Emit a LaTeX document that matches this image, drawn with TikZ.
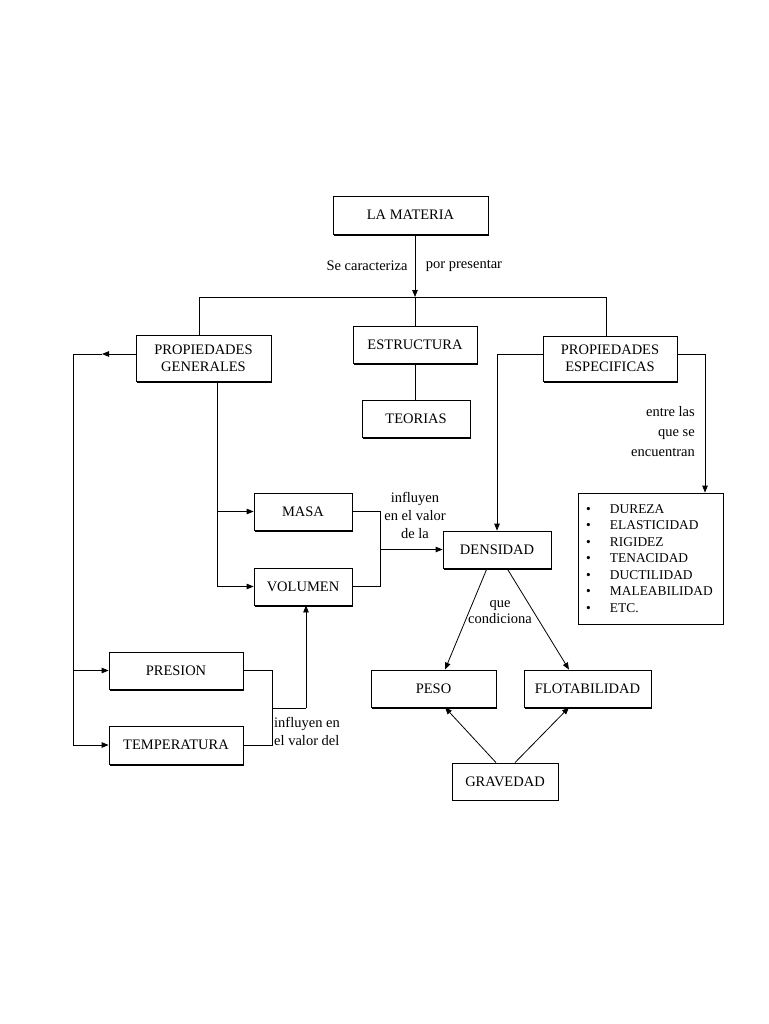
\documentclass[tikz,border=0pt]{standalone}
\usepackage{fontspec}
\setmainfont{Liberation Serif}
\usepackage{xcolor}
\usepackage{tikz}
\usetikzlibrary{arrows.meta, positioning, shadows}

\tikzset{
  box/.style={rectangle, draw, line width=0.8pt, fill=white, align=center, inner sep=2pt,
    drop shadow={shadow xshift=1pt, shadow yshift=-1.8pt, fill=black, opacity=1}},
  flatbox/.style={rectangle, draw, line width=0.8pt, fill=white, align=center, inner sep=2pt},
  link/.style={line width=0.8pt},
  arr/.style={line width=0.8pt, -{Triangle[length=7pt,width=5.5pt]}},
  lbl/.style={inner sep=0pt, font=\fontsize{14.5}{18}\selectfont}
}

\begin{document}
\begin{tikzpicture}[x=1pt, y=-1pt, font=\fontsize{14.5}{17}\selectfont]
    \useasboundingbox (0,0) rectangle (768,1024);

    % boxes
    \node[box, minimum width=155, minimum height=38] (materia) at (410.5,215) {LA MATERIA};
    \node[box, minimum width=135, minimum height=46] (pgen) at (203.5,358) {PROPIEDADES\\GENERALES};
    \node[box, minimum width=124, minimum height=37] (estr) at (415,344.5) {ESTRUCTURA};
    \node[box, minimum width=108, minimum height=37] (teor) at (416,418.5) {TEORIAS};
    \node[box, minimum width=134, minimum height=45] (pesp) at (610,358.5) {PROPIEDADES\\ESPECIFICAS};
    \node[box, minimum width=98, minimum height=37] (masa) at (303,511.5) {MASA};
    \node[box, minimum width=98, minimum height=37] (vol) at (303,586.5) {VOLUMEN};
    \node[box, minimum width=108, minimum height=37] (dens) at (497,549.5) {DENSIDAD};
    \node[box, minimum width=134, minimum height=37] (pres) at (176,670.5) {PRESION};
    \node[box, minimum width=134, minimum height=38] (temp) at (176,745) {TEMPERATURA};
    \node[box, minimum width=125, minimum height=37] (peso) at (433.5,688.5) {PESO};
    \node[box, minimum width=127, minimum height=37] (flot) at (587.5,688.5) {FLOTABILIDAD};
    \node[flatbox, minimum width=106, minimum height=37] (grav) at (505,781.5) {GRAVEDAD};
    \node[flatbox, minimum width=145, minimum height=131, text width=133, align=left,
      inner sep=6pt, font=\fontsize{13.4}{16.5}\selectfont] (lista) at (650.5,558.5) {%
      \makebox[26pt][l]{\hspace{2pt}\textbullet}DUREZA\\
      \makebox[26pt][l]{\hspace{2pt}\textbullet}ELASTICIDAD\\
      \makebox[26pt][l]{\hspace{2pt}\textbullet}RIGIDEZ\\
      \makebox[26pt][l]{\hspace{2pt}\textbullet}TENACIDAD\\
      \makebox[26pt][l]{\hspace{2pt}\textbullet}DUCTILIDAD\\
      \makebox[26pt][l]{\hspace{2pt}\textbullet}MALEABILIDAD\\
      \makebox[26pt][l]{\hspace{2pt}\textbullet}ETC.};

    % corner points
    \coordinate (top) at (415,297);
    \coordinate (topl) at (199,297);
    \coordinate (topr) at (606,297);
    \coordinate (lmid) at (102,354);
    \coordinate (lcol) at (73,354);
    \coordinate (lpres) at (73,670.5);
    \coordinate (ltemp) at (73,745);
    \coordinate (gcol) at (217,511.5);
    \coordinate (gvol) at (217,586.5);
    \coordinate (mvr) at (380,511.5);
    \coordinate (vvr) at (380,586.5);
    \coordinate (mvmid) at (380,549.5);
    \coordinate (ptr) at (272,670.5);
    \coordinate (ttr) at (272,745);
    \coordinate (ptmid) at (272,708);
    \coordinate (ptup) at (306,708);
    \coordinate (dl) at (497,354);
    \coordinate (er) at (705,354);

    % connectors
    \draw[arr] (materia.south -| top) -- (top);
    \draw[link] (topl) -- (topr);
    \draw[link] (topl) -- (topl |- pgen.north);
    \draw[link] (top) -- (estr.north -| top);
    \draw[link] (topr) -- (topr |- pesp.north);
    \draw[link] (estr.south -| top) -- (teor.north -| top);

    \draw[arr] (pgen.west |- lmid) -- (lmid);
    \draw[link] (lmid) -- (lcol) -- (ltemp);
    \draw[arr] (lpres) -- (pres.west);
    \draw[arr] (ltemp) -- (temp.west);

    \draw[link] (pgen.south -| gcol) -- (gvol);
    \draw[arr] (gcol) -- (masa.west);
    \draw[arr] (gvol) -- (vol.west);

    \draw[link] (masa.east) -- (mvr) -- (vvr) -- (vol.east);
    \draw[arr] (mvmid) -- (dens.west);

    \draw[link] (pres.east) -- (ptr) -- (ttr) -- (temp.east);
    \draw[link] (ptmid) -- (ptup);
    \draw[arr] (ptup) -- (vol.south -| ptup);

    \draw[link] (pesp.west |- dl) -- (dl);
    \draw[arr] (dl) -- (dens.north);
    \draw[link] (pesp.east |- er) -- (er);
    \draw[arr] (er) -- (lista.north -| er);

    \draw[arr] ([xshift=-10pt]dens.south) -- ([xshift=11.5pt]peso.north);
    \draw[arr] ([xshift=10pt]dens.south) -- ([xshift=-18.5pt]flot.north);
    \draw[arr] ([xshift=-9pt]grav.north) -- ([xshift=11.5pt]peso.south);
    \draw[arr] ([xshift=10pt]grav.north) -- ([xshift=-18.5pt]flot.south);

    % labels
    \node[lbl] (lcar) at (367,266) {Se caracteriza};
    \node[lbl] (lpor) at (464,266) {por presentar};
    \node[lbl, align=center] (linf) at (415,515) {influyen\\en el valor\\de la};
    \node[lbl, align=right, anchor=east, font=\fontsize{14.5}{20}\selectfont] (lent) at (695,432) {entre las\\que se\\encuentran};
    \node[lbl, align=center, font=\fontsize{14.5}{16.5}\selectfont] (lque) at (500,612) {que\\condiciona};
    \node[lbl, align=left, anchor=west] (ldel) at (274,731) {influyen en\\el valor del};
\end{tikzpicture}
\end{document}
